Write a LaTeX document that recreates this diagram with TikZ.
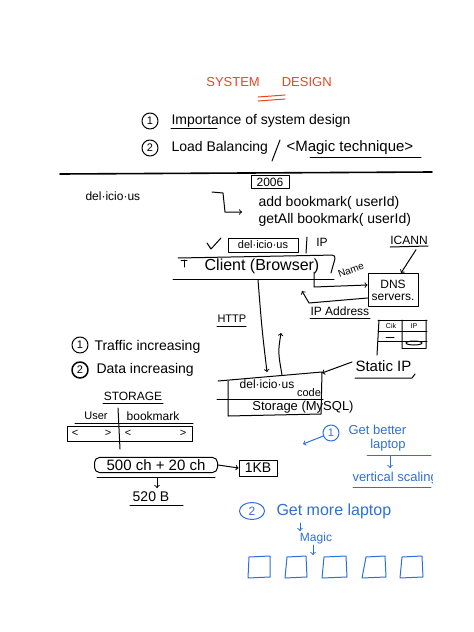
\documentclass[tikz,border=0pt]{standalone}
\usepackage{fontspec}
\setmainfont{Liberation Sans}
\usetikzlibrary{arrows, calc, positioning, shapes.geometric}
\definecolor{redink}{HTML}{E8461F}
\definecolor{blueink}{HTML}{2E6FD9}
\tikzset{
  hand/.style={inner sep=0pt, font=\fontsize{#1}{#1}\selectfont},
  num/.style={draw, circle, inner sep=0pt, minimum size=16pt, font=\fontsize{11}{11}\selectfont},
  pen/.style={line width=1pt, line cap=round, line join=round},
}

\begin{document}
\begin{tikzpicture}[x=1pt, y=-1pt, pen]
    \useasboundingbox (0,0) rectangle (474,632);

    % heading
    \node[hand=13, redink] (title) at (269,82) {SYSTEM\hspace{22pt}DESIGN};
    \draw[redink] (258,97) -- (285,95);
    \draw[redink] (258,101) -- (285,99);

    \node[num] (n1) at (150,121) {1};
    \node[hand=14, anchor=west] (imp) at (171,121) {Importance of system design};
    \draw ($(imp.base west)+(0,4)$) -- ++(46,0);
    \node[num] (n2) at (150,148) {2};
    \node[hand=14, anchor=west] (lb) at (171,148) {Load Balancing};
    \draw (272,161) -- (280,140);
    \node[hand=15, anchor=west] (mt) at (286,148) {<Magic technique>};
    \draw (310,157) -- (421,157);
    \draw[line width=1.6pt] (60,174) -- (432,172);

    % 2006
    \node[hand=12, draw, inner sep=2.5pt, minimum width=38pt, line width=0.8pt] (yr) at (270,182) {2006};
    \node[hand=12, anchor=west] (site) at (85,196) {del·icio·us};
    \node[hand=14, anchor=west] (addbm) at (258,203) {add bookmark( userId)};
    \node[hand=14, anchor=west] (getbm) at (258,220) {getAll bookmark( userId)};
    \coordinate (hook) at (212,192);
    \draw[->] (hook) -- ++(11,1) -- ++(2,19) -- ($(addbm.west)+(-16,9)$);

    % browser
    \node[hand=11, draw, minimum width=70pt, minimum height=14pt] (url) at (263,245) {del·icio·us};
    \draw (207,243) -- (211,249) -- (221,238);
    \draw (307,237) -- (306,253);
    \node[hand=12] (ip) at (322,242) {IP};
    \node[hand=16] (client) at (262,266) {Client (Browser)};
    \draw[rounded corners=4pt] (178,258) -- (336,255) -- (331,273);
    \draw (173,279) -- (334,279);
    \draw (181,260) -- (187,260) (184,260) -- (184,267);

    % dns
    \node[hand=12, draw, align=center, minimum width=50pt, minimum height=33pt] (dns) at (393,290) {DNS\\servers.};
    \coordinate (cb) at (314,272);
    \draw[->] (cb) -- (314,287) -- ($(dns.west)+(0,-5)$);
    \node[hand=10, rotate=20] (nm) at (351,270) {Name};
    \coordinate (ret) at (302,291);
    \draw[->] ($(dns.west)+(0,8)$) -- (309,303) -- (ret);
    \node[hand=12, anchor=west] (ipa) at (310,311) {IP Address};
    \draw (310,318) -- (370,318);
    \node[hand=12] (icann) at (409,240) {ICANN};
    \draw (390,247) -- (428,246);
    \draw[->] ($(icann.south)+(7,5)$) -- ($(dns.north)+(8,0)$);

    % table
    \draw (378,320) -- (427,320) (378,331) -- (427,331) (378,341) -- (427,341) (402,348) -- (426,348);
    \draw (379,320) -- (377,355) (402,320) -- (402,348) (426,320) -- (426,348);
    \node[hand=7] (cik) at (391,326) {Cik};
    \node[hand=7] (ipcol) at (414,326) {IP};
    \draw (386,337) -- (394,337);
    \draw (414,343) ellipse (8pt and 2pt);

    % server
    \node[hand=11, anchor=west] (http) at (217,319) {HTTP};
    \draw (217,326) -- (246,326);
    \draw (218,381) -- (322,372);
    \draw (228,381) -- (228,416) -- (321,414) -- (322,372);
    \draw (217,399) -- (323,399);
    \node[hand=12] (code1) at (267,384) {del·icio·us};
    \node[hand=11] (code2) at (309,393) {code};
    \node[hand=13] (mysql) at (303,407) {Storage (MySQL)};
    \coordinate (srvin) at (267,372);
    \coordinate (srvout) at (282,375);
    \draw[->] (258,280) .. controls (262,330) .. (srvin);
    \draw[->] (srvout) .. controls (278,352) .. (281,333);
    \node[hand=15, anchor=west] (static) at (355,366) {Static IP};
    \draw (355,378) -- (412,378) -- (415,374);
    \draw[->] (352,362) -- (322,373);

    % growth
    \node[num] (t1) at (80,345) {1};
    \node[hand=14, anchor=west] (traffic) at (94,347) {Traffic increasing};
    \node[num, line width=1.5pt] (t2) at (80,370) {2};
    \node[hand=14, anchor=west] (data) at (96,370) {Data increasing};
    \node[hand=12] (stor) at (133,396) {STORAGE};
    \draw (103,403) -- (163,403);
    \node[hand=11] (user) at (96,416) {User};
    \node[hand=12] (bm) at (153,416) {bookmark};
    \draw (118,408) -- (120,449);
    \draw (75,423) -- (193,423);
    \draw (67,426) rectangle (192,441);
    \node[hand=11] (lt1) at (75,433) {<};
    \node[hand=11] (gt1) at (108,433) {>};
    \node[hand=11] (lt2) at (128,433) {<};
    \node[hand=11] (gt2) at (183,433) {>};

    \node[hand=15, draw, rounded corners=5pt, inner sep=2pt, minimum width=123pt, minimum height=15pt] (size) at (156,465) {500 ch + 20 ch};
    \draw (97,477) -- (215,477);
    \node[hand=14, draw, inner sep=2pt, minimum width=38pt, minimum height=16pt] (kb) at (258,468) {1KB};
    \draw[->] (size.east) -- (kb.west);
    \draw[->] (157,478) -- (157,488);
    \node[hand=14] (total) at (151,497) {520 B};
    \draw (130,505) -- (183,505);

    % scaling
    \node[num, blueink] (b1) at (331,433) {1};
    \draw[->, blueink] (b1) -- (303,444);
    \node[hand=13, blueink, anchor=west] (better) at (348,430) {Get better};
    \node[hand=13, blueink] (lap) at (388,445) {laptop};
    \draw[blueink] (367,455) -- (431,455);
    \draw[blueink, ->] (390,456) -- (390,468);
    \begin{scope}
        \clip (0,0) rectangle (432,632);
        \node[hand=13, blueink, anchor=west] (vert) at (352,478) {vertical scaling};
    \end{scope}
    \draw[blueink] (353,487) -- (431,487);

    \node[blueink, draw, ellipse, minimum width=25pt, minimum height=17pt, inner sep=0pt, font=\fontsize{12}{12}\selectfont] (b2) at (252,511) {2};
    \node[hand=16, blueink, anchor=west] (more) at (276,511) {Get more laptop};
    \draw[blueink, ->] (300,523) -- (300,531);
    \node[hand=12, blueink] (mg) at (316,538) {Magic};
    \draw[blueink, ->] (313,545) -- (313,555);
    \foreach \a/\b/\c/\d in {249/270/270/248, 287/306/307/285, 324/346/347/322, 366/385/386/362, 402/422/423/400} {
        \draw[blueink] (\a,557) -- (\b,556) -- (\c,577) -- (\d,578) -- cycle;
    }
\end{tikzpicture}
\end{document}
